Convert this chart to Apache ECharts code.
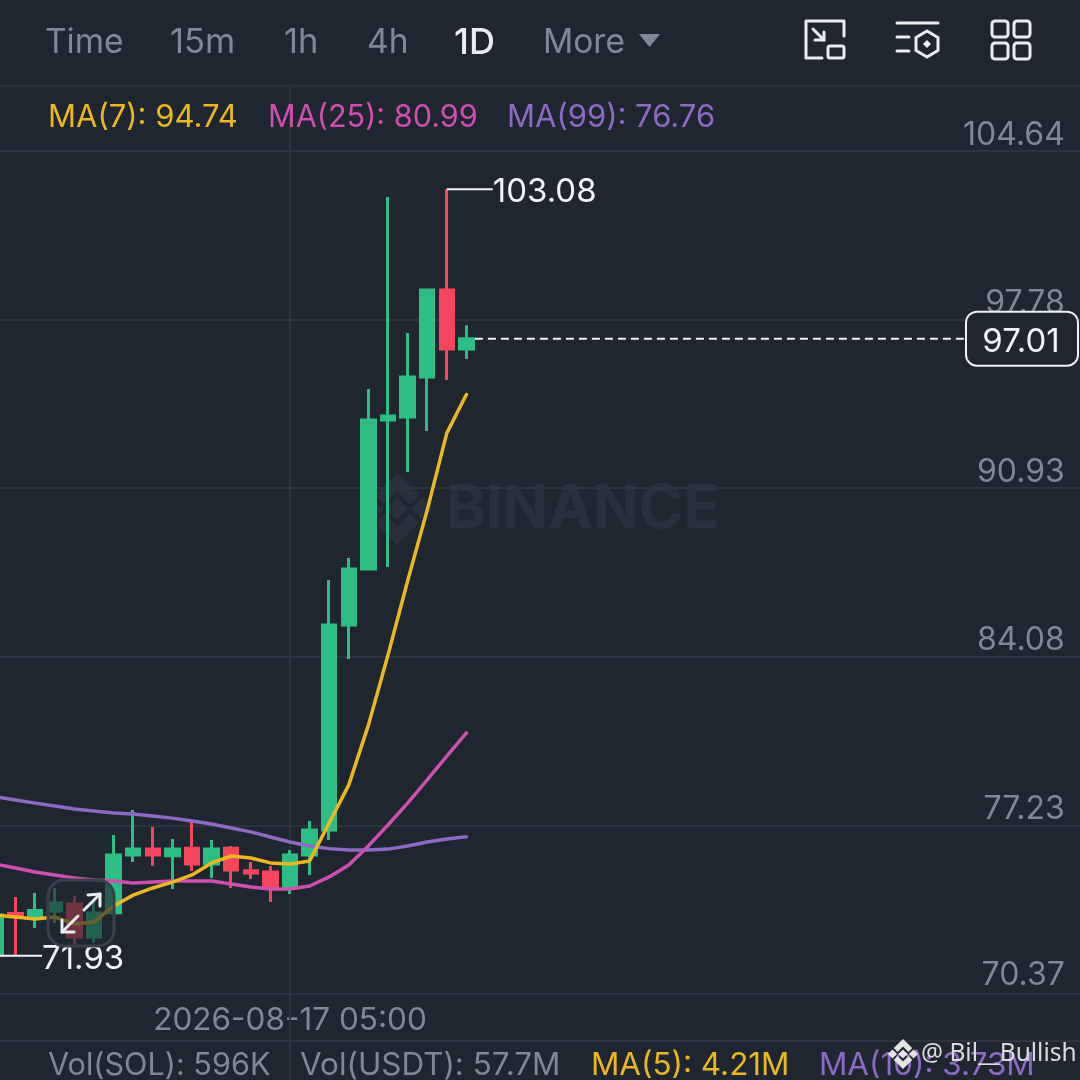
<!DOCTYPE html>
<html><head><meta charset="utf-8">
<style>html,body{margin:0;padding:0;background:#1f2630}#c{width:1080px;height:1080px}</style>
<script src="https://cdn.jsdelivr.net/npm/echarts@6/dist/echarts.min.js"></script>
</head><body><div id="c"></div>
<script>
// [open, close, low, high]
const candles = [
[71.95,73.58,71.93,73.58],[73.64,73.51,71.96,74.31],[73.55,73.76,73.05,74.48],[73.74,74.07,73.26,74.68],
[74.03,72.69,72.40,74.35],[72.69,73.66,72.44,74.19],[73.67,76.02,73.67,76.83],[76.02,76.26,75.74,77.85],
[76.26,76.02,75.57,77.16],[75.99,76.26,74.64,76.67],[76.30,75.65,75.37,77.36],[75.65,76.26,75.09,76.63],
[76.30,75.41,74.68,76.39],[75.38,75.29,75.04,75.74],[75.33,74.68,74.11,75.57],[74.68,76.02,74.44,76.22],
[76.02,77.04,75.21,77.40],[77.04,85.37,76.63,87.20],[85.37,87.65,83.99,88.09],[87.65,93.70,87.61,94.96],
[93.70,93.87,87.73,102.77],[93.83,95.45,91.59,97.24],[95.45,98.99,93.26,99.03],[98.99,96.59,95.33,103.08],
[96.59,97.01,96.18,97.56]];
const ma7 = [73.58,73.50,73.42,73.50,73.22,73.30,73.95,74.39,74.68,74.92,75.21,75.70,75.98,75.90,75.70,75.65,75.78,77.32,78.87,81.30,84.15,87.16,90.04,93.17,94.74];
const ma25 = [75.65,75.49,75.33,75.21,75.09,75.00,74.96,74.88,74.92,74.96,74.96,74.96,74.84,74.72,74.64,74.64,74.76,75.13,75.61,76.39,77.24,78.13,79.07,80.04,80.99];
const ma99 = [78.38,78.26,78.13,78.01,77.89,77.81,77.73,77.69,77.61,77.52,77.40,77.28,77.12,76.96,76.75,76.55,76.39,76.28,76.22,76.22,76.26,76.39,76.55,76.67,76.76];
const yTicks = [70.37,77.23,84.08,90.93,97.78,104.64];
const slotCount = 56;
const dateIndex = 15;
const dateLabel = '2026-08-17 05:00';
const lastPrice = 97.01;
const extremes = [[23,103.08],[0,71.93]];
const lastPoint = [[24,lastPrice]];

const categories = Array.from({length:slotCount},(_,i)=>'c'+i);
const FONT='Inter';
const BG='#1f2630', GRID='#2e343f', GRAY='#7f8896', YEL='#ecb821', PINK='#cf4fae', PUR='#8d6bc4', GREEN='#2ebd85', RED='#f6465d', WHITE='#eaecef';

function txt(x,y,t,fill,size,weight){return {type:'text',z:50,x:x,y:y,style:{text:t,fill:fill,font:(weight||'400')+' '+(size||30)+'px '+FONT,textVerticalAlign:'middle'}};}
function ln(x1,y1,x2,y2,c,w,z){return {type:'line',z:z||50,shape:{x1,y1,x2,y2},style:{stroke:c,lineWidth:w||3,lineCap:'round'}};}
function poly(pts,c,z,op){return {type:'polygon',z:z,shape:{points:pts},style:{fill:c,opacity:op==null?1:op}};}
function pl(pts,c,w,z){return {type:'polyline',z:z||50,shape:{points:pts},style:{stroke:c,fill:null,lineWidth:w||3,lineCap:'round',lineJoin:'round'}};}
function rr(x,y,w,h,r,c,lw){return {type:'rect',z:50,shape:{x,y,width:w,height:h,r},style:{stroke:c,fill:null,lineWidth:lw||3}};}
function logo(cx,cy,s,c,z,op){
  const P=(a)=>a.map(p=>[cx+p[0]*s,cy+p[1]*s]);
  return [
    poly(P([[0,-11],[11,0],[0,11],[-11,0]]),c,z,op),
    poly(P([[-25,-11],[-14,0],[-25,11],[-36,0]]),c,z,op),
    poly(P([[25,-11],[36,0],[25,11],[14,0]]),c,z,op),
    poly(P([[0,-36],[22,-14],[13,-5],[0,-18],[-13,-5],[-22,-14]]),c,z,op),
    poly(P([[0,36],[22,14],[13,5],[0,18],[-13,5],[-22,14]]),c,z,op)
  ];
}
const graphics=[
  ln(0,86,1080,86,'#2b313b',3,1),
  ln(0,1041,1080,1041,GRID,2,1),
  ln(290,87,290,151,GRID,2,1),
  ln(290,994,290,1080,GRID,2,1),
  txt(45,43,'Time',GRAY,33.5),txt(170,43,'15m',GRAY,34.5),txt(284,43,'1h',GRAY,34.5),txt(367,43,'4h',GRAY,33.5),
  txt(454,43,'1D',WHITE,36,'500'),txt(543,43,'More',GRAY,33.5),
  poly([[639,34],[660,34],[649.5,47]],GRAY,50),
  pl([[822,58],[806,58],[806,21],[844,21],[844,36]],WHITE,3),
  rr(828,46,16,12,2,WHITE,3),
  pl([[813,29],[824,40]],WHITE,3),pl([[824,32],[824,40],[815,40]],WHITE,3),
  ln(897,23,938,23,WHITE,3),ln(897,37,909,37,WHITE,3),ln(897,51,909,51,WHITE,3),
  {type:'polygon',z:50,shape:{points:[[927,31],[938,37.5],[938,50.5],[927,57],[916,50.5],[916,37.5]]},style:{stroke:WHITE,fill:null,lineWidth:3}},
  poly([[927,40],[931,44],[927,48],[923,44]],WHITE,50),
  rr(992,21,16,16,3,WHITE,3),rr(1014,21,16,16,3,WHITE,3),rr(992,43,16,16,3,WHITE,3),rr(1014,43,16,16,3,WHITE,3),
  txt(48,118,'MA(7): 94.74',YEL,31),txt(268,118,'MA(25): 80.99',PINK,30.6),txt(507,118,'MA(99): 76.76',PUR,31),
  txt(48,1066,'Vol(SOL): 596K',GRAY,30.6),txt(300,1066,'Vol(USDT): 57.7M',GRAY,31.4),
  txt(591,1066,'MA(5): 4.21M',YEL,31.4),txt(819,1066,'MA(10): 3.73M',PUR,31.4),
  {type:'text',z:0,x:446,y:510,style:{text:'BINANCE',fill:'#2a303b',font:'700 60px '+FONT,textVerticalAlign:'middle'}},
  ...logo(397,509,1,'#2a303b',0),
  ...logo(903,1054,0.42,'#e4e4e4',60),
  {type:'text',z:60,x:921,y:1054,style:{text:'@ Bil__Bullish',fill:'#dcdcdc',font:'400 24.5px "Noto Sans"',textVerticalAlign:'middle'}},
  {type:'rect',z:40,shape:{x:48,y:880,width:66,height:66,r:16},style:{fill:'rgba(31,38,48,0.62)',stroke:'#3a404b',lineWidth:3}},
  pl([[84,910],[100,894]],WHITE,3,41),
  pl([[88,895],[100,894],[100,906]],WHITE,3,41),
  pl([[62,932],[78,916]],WHITE,3,41),
  pl([[62,920],[62,932],[74,932]],WHITE,3,41)
];

const chart=echarts.init(document.getElementById('c'),null,{renderer:'canvas'});
const lineSeries=(name,data,color)=>({name,type:'line',data,showSymbol:false,symbol:'none',z:4,lineStyle:{color,width:3.5,cap:'round',join:'round'},itemStyle:{color},silent:true,animation:false});
chart.setOption({
  animation:false,
  backgroundColor:BG,
  textStyle:{fontFamily:FONT},
  graphic:{elements:graphics},
  grid:{left:-13.8,top:151,width:1097.6,height:843,outerBoundsMode:'none',containLabel:false},
  xAxis:{type:'category',data:categories,boundaryGap:true,
    axisLine:{show:false},axisTick:{show:false},splitLine:{show:false},
    axisLabel:{interval:0,margin:11,hideOverlap:false,color:GRAY,fontSize:31.5,fontFamily:FONT,
      formatter:(v,i)=>i===dateIndex?dateLabel:''}},
  yAxis:{type:'value',position:'right',min:yTicks[0],max:yTicks[yTicks.length-1],scale:true,
    axisLine:{show:false},
    axisTick:{show:false,customValues:yTicks},
    splitLine:{show:true,lineStyle:{color:GRID,width:2}},
    axisLabel:{inside:true,customValues:yTicks,margin:19,color:GRAY,fontSize:32,fontFamily:FONT,verticalAlign:'bottom',
      rich:{low:{color:GRAY,fontSize:32,fontFamily:FONT,padding:[0,0,3,0]}},
      formatter:v=>v===yTicks[0]?'{low|'+v.toFixed(2)+'}':v.toFixed(2)}},
  series:[
    {type:'candlestick',data:candles,barWidth:14,z:3,
     itemStyle:{color:GREEN,color0:RED,borderColor:GREEN,borderColor0:RED,borderWidth:3},
     markLine:{silent:true,symbol:'none',z:1,label:{show:false},lineStyle:{color:GRID,width:2,type:'solid'},data:[{xAxis:dateIndex}]}},
    lineSeries('MA99',ma99,PUR),
    lineSeries('MA25',ma25,PINK),
    lineSeries('MA7',ma7,YEL),
    {type:'custom',data:extremes,clip:false,z:10,silent:true,encode:{x:0,y:1},
     renderItem:(p,api)=>{
       const c=api.coord([api.value(0),api.value(1)]);
       return {type:'group',children:[
         {type:'line',shape:{x1:c[0],y1:c[1],x2:c[0]+46,y2:c[1]},style:{stroke:'#f2f3f5',lineWidth:2}},
         {type:'text',x:c[0]+46,y:c[1]+3,style:{text:api.value(1).toFixed(2),fill:'#f2f3f5',font:'400 33px '+FONT,textVerticalAlign:'middle'}}
       ]};
     }},
    {type:'custom',data:lastPoint,clip:false,z:9,silent:true,encode:{x:0,y:1},
     renderItem:(p,api)=>{
       const c=api.coord([api.value(0),api.value(1)]);
       return {type:'group',children:[
         {type:'line',shape:{x1:c[0]+8.5,y1:c[1],x2:965,y2:c[1]},style:{stroke:'#eef0f2',lineWidth:2,lineDash:[8,5]}},
         {type:'rect',shape:{x:966,y:c[1]-27,width:112,height:54,r:11},style:{fill:BG,stroke:'#eef0f2',lineWidth:2}},
         {type:'text',x:1021,y:c[1]+3,style:{text:api.value(1).toFixed(2),fill:'#f2f3f5',font:'400 33px '+FONT,textAlign:'center',textVerticalAlign:'middle'}}
       ]};
     }}
  ]
});
</script></body></html>
